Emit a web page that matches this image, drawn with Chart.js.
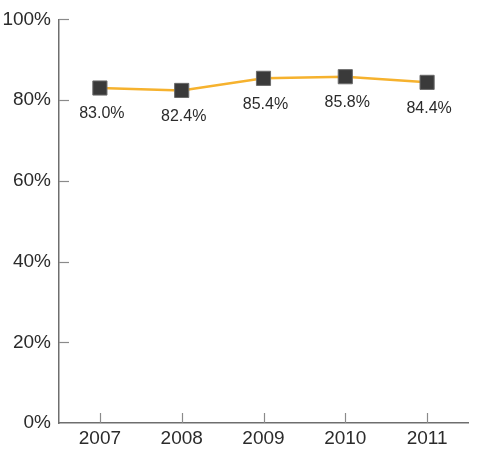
<!DOCTYPE html>
<html>
<head>
<meta charset="utf-8">
<script src="https://cdn.jsdelivr.net/npm/chart.js@4"></script>
<style>
  html, body { margin: 0; padding: 0; background: #fff; }
  #wrap { width: 491px; height: 467px; }
</style>
</head>
<body>
<div id="wrap"><canvas id="rate_chart" width="491" height="467"></canvas></div>
<script>
const years = ['2007', '2008', '2009', '2010', '2011'];
const rates = [83.0, 82.4, 85.4, 85.8, 84.4];
const yTicks = [0, 20, 40, 60, 80, 100];

const FONT = '"Liberation Sans", Arial, sans-serif';

// small tick marks drawn inward from the axis lines + value labels under the points
const extras = {
    id: 'extras',
    afterDatasetsDraw(chart) {
        const c = chart.ctx;
        const x = chart.scales.x;
        const y = chart.scales.y;
        const area = chart.chartArea;

        c.save();
        c.strokeStyle = '#8a8a8a';
        c.lineWidth = 1.2;
        years.forEach((yr, i) => {
            const px = Math.round(x.getPixelForValue(i)) + 0.5;
            c.beginPath();
            c.moveTo(px, area.bottom);
            c.lineTo(px, area.bottom - 10);
            c.stroke();
        });
        yTicks.forEach(v => {
            if (v === 0) return;
            const py = Math.round(y.getPixelForValue(v)) + 0.5;
            c.beginPath();
            c.moveTo(area.left, py);
            c.lineTo(area.left + 10, py);
            c.stroke();
        });

        c.fillStyle = '#2b2b2b';
        c.font = '16px ' + FONT;
        c.textAlign = 'center';
        c.textBaseline = 'middle';
        const meta = chart.getDatasetMeta(0);
        meta.data.forEach((pt, i) => {
            c.fillText(rates[i].toFixed(1) + '%', pt.x + 2, pt.y + 26);
        });
        c.restore();
    }
};

new Chart(document.getElementById('rate_chart'), {
    type: 'line',
    data: {
        labels: years,
        datasets: [{
            data: rates,
            borderColor: '#f6b22e',
            borderWidth: 2.5,
            pointStyle: 'rect',
            pointRadius: 10,
            pointHoverRadius: 10,
            pointBackgroundColor: '#3a3a3a',
            pointBorderColor: '#6a6a6a',
            pointBorderWidth: 1,
            tension: 0
        }]
    },
    options: {
        responsive: false,
        animation: false,
        events: [],
        layout: { padding: { top: 18, right: 23, left: 0, bottom: 0 } },
        plugins: {
            legend: { display: false },
            tooltip: { enabled: false }
        },
        scales: {
            x: {
                offset: true,
                grid: { display: false, drawTicks: false },
                border: { display: true, color: '#6e6e6e', width: 1.5 },
                ticks: {
                    color: '#2b2b2b',
                    padding: 4,
                    font: { family: FONT, size: 19 }
                },
                afterFit(scale) { scale.height = 44; }
            },
            y: {
                min: 0,
                max: 100,
                grid: { display: false, drawTicks: false },
                border: { display: true, color: '#6e6e6e', width: 1.5 },
                afterBuildTicks(scale) { scale.ticks = yTicks.map(v => ({ value: v })); },
                ticks: {
                    color: '#2b2b2b',
                    padding: 8,
                    font: { family: FONT, size: 19 },
                    callback: v => v + '%'
                },
                afterFit(scale) { scale.width = 59; }
            }
        }
    },
    plugins: [extras]
});
</script>
</body>
</html>
